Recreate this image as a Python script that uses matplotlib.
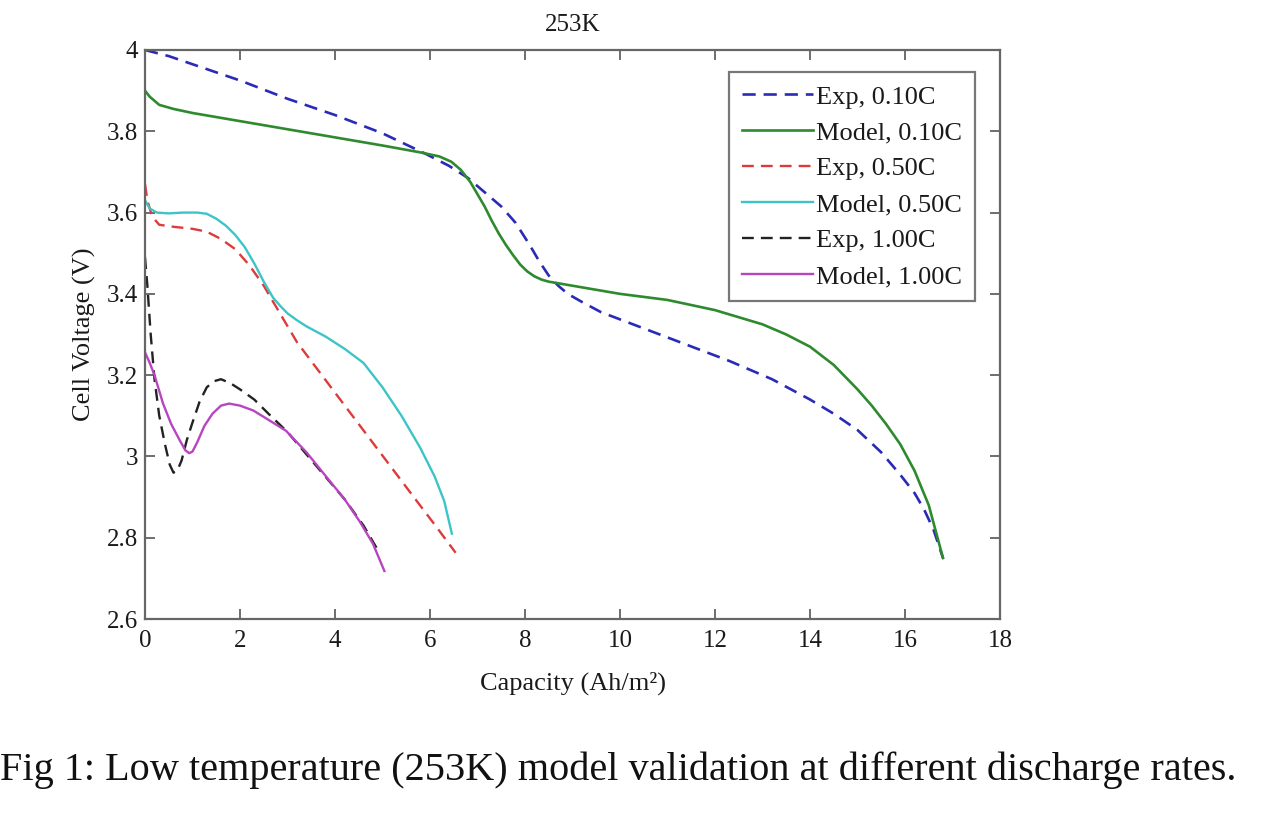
import matplotlib
matplotlib.use("Agg")
import matplotlib.pyplot as plt

plt.rcParams['font.family'] = ['Liberation Serif', 'DejaVu Serif']

# ---- data ----
exp010_cap = [0, 0.5, 1, 2, 3, 4, 5, 5.9, 6.4, 6.8, 7.2, 7.5, 7.8, 8.1, 8.3, 8.5, 8.7, 8.9,
              9.2, 9.6, 10.5, 11.4, 12.3, 13.2, 14.0, 14.5, 15.0, 15.5, 15.9, 16.2, 16.4,
              16.6, 16.8]
exp010_v = [4.0, 3.985, 3.965, 3.925, 3.88, 3.84, 3.795, 3.745, 3.715, 3.685, 3.645, 3.615,
            3.575, 3.52, 3.48, 3.445, 3.42, 3.4, 3.38, 3.355, 3.315, 3.275, 3.235, 3.19, 3.14,
            3.105, 3.065, 3.01, 2.955, 2.91, 2.87, 2.82, 2.75]

mod010_cap = [0, 0.1, 0.3, 0.6, 1.0, 2, 3, 4, 5, 5.8, 6.2, 6.45, 6.65, 6.85, 7.0, 7.15,
              7.3, 7.45, 7.6, 7.75, 7.9, 8.05, 8.2, 8.35, 8.5, 8.7, 9, 10, 11, 12, 13, 13.5,
              14.0, 14.5, 15, 15.3, 15.6, 15.9, 16.2, 16.5, 16.8]
mod010_v = [3.9, 3.885, 3.865, 3.855, 3.845, 3.825, 3.805, 3.785, 3.765, 3.748, 3.738, 3.725,
            3.705, 3.675, 3.645, 3.615, 3.58, 3.548, 3.52, 3.495, 3.472, 3.455, 3.443, 3.435,
            3.43, 3.426, 3.42, 3.40, 3.385, 3.36, 3.325, 3.3, 3.27, 3.225, 3.165, 3.125,
            3.08, 3.03, 2.965, 2.88, 2.75]

exp050_cap = [0, 0.05, 0.15, 0.3, 0.6, 1.0, 1.3, 1.6, 1.9, 2.2, 2.5, 2.7, 3.2, 3.8, 4.4,
              5.0, 5.6, 6.1, 6.54]
exp050_v = [3.67, 3.63, 3.59, 3.57, 3.565, 3.56, 3.553, 3.535, 3.51, 3.47, 3.42, 3.38, 3.281,
            3.188, 3.095, 3.002, 2.909, 2.832, 2.763]

mod050_cap = [0, 0.1, 0.25, 0.5, 0.8, 1.1, 1.3, 1.5, 1.7, 1.9, 2.1, 2.3, 2.5, 2.7, 2.85,
              3.0, 3.2, 3.4, 3.8, 4.2, 4.6, 5.0, 5.4, 5.8, 6.1, 6.3, 6.46]
mod050_v = [3.63, 3.61, 3.6, 3.598, 3.6, 3.6, 3.597, 3.585, 3.568, 3.545, 3.515, 3.475,
            3.43, 3.39, 3.37, 3.352, 3.335, 3.32, 3.295, 3.265, 3.23, 3.17, 3.1, 3.02, 2.95,
            2.89, 2.81]

exp100_cap = [0, 0.05, 0.12, 0.2, 0.3, 0.42, 0.52, 0.6, 0.68, 0.77, 0.88, 0.99, 1.15, 1.3,
              1.45, 1.6, 1.8, 2.0, 2.3, 2.6, 3.0, 3.4, 3.8, 4.2, 4.6, 4.9]
exp100_v = [3.49, 3.42, 3.3, 3.19, 3.1, 3.03, 2.98, 2.96, 2.965, 2.99, 3.04, 3.08, 3.135,
            3.17, 3.185, 3.19, 3.18, 3.165, 3.14, 3.105, 3.06, 3.005, 2.95, 2.895, 2.83, 2.77]

mod100_cap = [0, 0.1, 0.2, 0.38, 0.55, 0.73, 0.85, 0.93, 1.0, 1.1, 1.25, 1.42, 1.6, 1.77,
              2.0, 2.28, 2.6, 2.97, 3.4, 3.83, 4.2, 4.52, 4.8, 5.04]
mod100_v = [3.256, 3.23, 3.2, 3.13, 3.08, 3.04, 3.015, 3.008, 3.012, 3.035, 3.075, 3.105,
            3.125, 3.13, 3.125, 3.113, 3.09, 3.063, 3.01, 2.948, 2.895, 2.84, 2.785, 2.718]

labels = ['Exp, 0.10C', 'Model, 0.10C', 'Exp, 0.50C', 'Model, 0.50C', 'Exp, 1.00C', 'Model, 1.00C']
xticks = [0, 2, 4, 6, 8, 10, 12, 14, 16, 18]
yticks = [2.6, 2.8, 3.0, 3.2, 3.4, 3.6, 3.8, 4.0]
ytick_labels = ['2.6', '2.8', '3', '3.2', '3.4', '3.6', '3.8', '4']

# ---- figure ----
fig = plt.figure(figsize=(12.8, 8.38), dpi=100)
ax = fig.add_axes([145/1280, 1-619/838, (1000-145)/1280, (619-50)/838])

dash = (0, (5, 3))
series = [
    (exp010_cap, exp010_v, '#2a2ab8', dash, 1.9),
    (mod010_cap, mod010_v, '#2e8a2e', '-', 1.9),
    (exp050_cap, exp050_v, '#dd3b3b', dash, 1.7),
    (mod050_cap, mod050_v, '#3cc4c8', '-', 1.7),
    (exp100_cap, exp100_v, '#222222', dash, 1.7),
    (mod100_cap, mod100_v, '#b845c0', '-', 1.7),
]
for (xs, ys, c, ls, lw), lab in zip(series, labels):
    ax.plot(xs, ys, color=c, linestyle=ls, linewidth=lw, label=lab)

ax.set_xlim(0, 18)
ax.set_ylim(2.6, 4.0)
ax.set_xticks(xticks)
ax.set_xticklabels([str(t) for t in xticks])
ax.set_yticks(yticks)
ax.set_yticklabels(ytick_labels)
ax.tick_params(direction='in', length=7, width=1.2, colors='#555555',
               labelcolor='#1a1a1a', labelsize=18, top=True, right=True, pad=5)
ax.tick_params(axis='x', pad=8)
for s in ax.spines.values():
    s.set_color('#666666')
    s.set_linewidth(1.6)

ax.set_title('253K', fontsize=18, pad=14, color='#1a1a1a')
ax.set_xlabel('Capacity (Ah/m²)', fontsize=19, labelpad=14, color='#1a1a1a')
ax.set_ylabel('Cell Voltage (V)', fontsize=19, labelpad=8, color='#1a1a1a')

leg = ax.legend(loc='upper right', bbox_to_anchor=((975-145)/855, (619-72)/569), fontsize=19,
                frameon=True, fancybox=False, handlelength=2.7, handletextpad=0.1,
                labelspacing=0.47, borderpad=0.5, borderaxespad=0.0)
leg.get_frame().set_edgecolor('#555555')
leg.get_frame().set_linewidth(1.6)
for t in leg.get_texts():
    t.set_color('#1a1a1a')

fig.text(0.0, 1-770/838, 'Fig 1: Low temperature (253K) model validation at different discharge rates.',
         fontsize=29, va='center', ha='left', color='#111111')

fig.savefig('out.png', dpi=100)
